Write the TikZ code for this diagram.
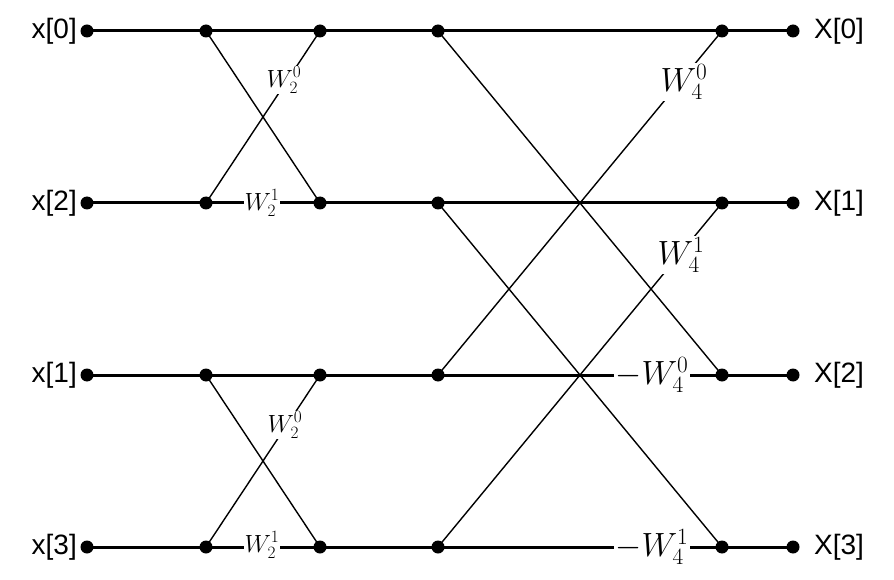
\documentclass[tikz,border=0pt]{standalone}
\usepackage{fontspec}
\newfontfamily\lab{Liberation Sans}
\begin{document}
\begin{tikzpicture}[x=1pt,y=-1pt,
  dot/.style={circle,fill=black,inner sep=0pt,minimum size=13pt},
  thick line/.style={line width=3pt},
  thin line/.style={line width=1.4pt},
  io/.style={font=\lab\fontsize{28}{28}\selectfont,inner sep=0pt},
  wsmall/.style={fill=white,inner sep=1pt,font=\fontsize{23}{23}\selectfont},
  wbig/.style={fill=white,inner sep=1pt,scale=1.35,font=\fontsize{23}{23}\selectfont}]
\useasboundingbox (0,0) rectangle (894,580);
\foreach \r/\y in {0/31,1/203,2/375,3/547}{
  \node[dot] (a\r) at (87,\y) {};
  \node[dot] (b\r) at (206,\y) {};
  \node[dot] (c\r) at (320,\y) {};
  \node[dot] (d\r) at (438,\y) {};
  \node[dot] (e\r) at (722,\y) {};
  \node[dot] (f\r) at (793,\y) {};
}
\node[io,anchor=east] at (77,31) {x[0]};
\node[io,anchor=east] at (77,203) {x[2]};
\node[io,anchor=east] at (77,375) {x[1]};
\node[io,anchor=east] at (77,547) {x[3]};
\node[io,anchor=west] at (814,31) {X[0]};
\node[io,anchor=west] at (814,203) {X[1]};
\node[io,anchor=west] at (814,375) {X[2]};
\node[io,anchor=west] at (814,547) {X[3]};
% diagonals
\draw[thin line] (b0.center) -- (c1.center);
\draw[thin line] (b1.center) -- (c0.center);
\draw[thin line] (b2.center) -- (c3.center);
\draw[thin line] (b3.center) -- (c2.center);
\draw[thin line] (d0.center) -- (e2.center);
\draw[thin line] (d1.center) -- (e3.center);
\draw[thin line] (d2.center) -- (e0.center);
\draw[thin line] (d3.center) -- (e1.center);
% horizontals
\foreach \r in {0,1,2,3}{\draw[thick line] (a\r.center) -- (f\r.center);}
% labels
\node[wsmall] at (284,80) {$W_2^0$};
\node[wsmall] at (262,203) {$W_2^1$};
\node[wsmall] at (285,425) {$W_2^0$};
\node[wsmall] at (262,545) {$W_2^1$};
\node[wbig] at (684,82) {$W_4^0$};
\node[wbig] at (681,255) {$W_4^1$};
\node[wbig] at (652,375) {$-W_4^0$};
\node[wbig] at (652,547) {$-W_4^1$};
\end{tikzpicture}
\end{document}
